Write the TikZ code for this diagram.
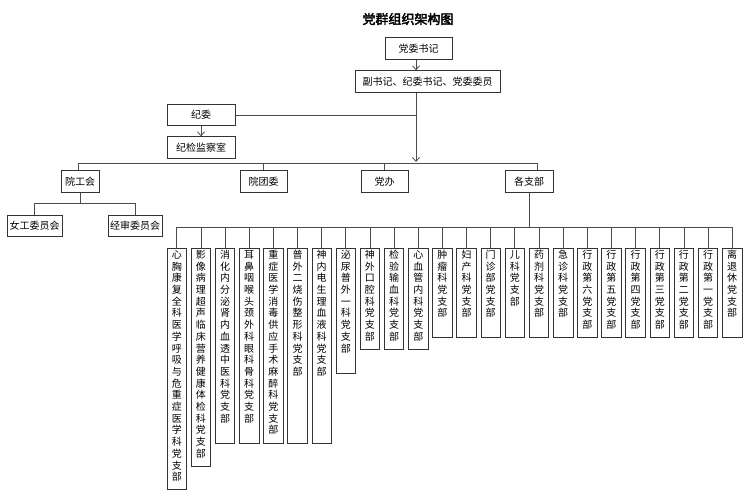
\documentclass[tikz,border=0pt]{standalone}
\usepackage{fontspec}
\setmainfont{Noto Sans CJK SC}
\newfontfamily\titlefont[FakeBold=3]{Noto Sans CJK SC}
\usetikzlibrary{arrows.meta}
\ExplSyntaxOn
\NewDocumentCommand\charlines{m}{\exp_args:No\tl_map_inline:nn{#1}{\hbox_to_wd:nn{19.5pt}{\hss\rule[-1.5pt]{0pt}{11pt}##1\hss}}}
\ExplSyntaxOff
\newcommand\colstack[2]{\vbox to #1{\vskip0.5pt\baselineskip=11.7pt\lineskiplimit=-\maxdimen\charlines{#2}\vss}}
\tikzset{
  box/.style={draw=black!80, line width=0.8pt, inner sep=0pt, minimum height=21.5pt, font=\fontsize{10}{12}\selectfont},
  colbox/.style={draw=black!80, line width=0.8pt, inner sep=0pt, anchor=north, font=\fontsize{10}{12}\selectfont},
  conn/.style={draw=black!70, line width=0.8pt},
  arr/.style={conn, -{Straight Barb[length=4pt,width=7pt]}},
}
\begin{document}
\begin{tikzpicture}[x=1pt,y=-1pt]
\useasboundingbox (0,0) rectangle (750,499);
\node[font=\titlefont\fontsize{13}{15}\selectfont] (title) at (408,19) {党群组织架构图};
\node[box, minimum width=67pt] (dwsj) at (418.5,48.5) {党委书记};
\node[box, minimum width=145pt] (fsj) at (427.5,81.5) {副书记、纪委书记、党委委员};
\node[box, minimum width=68pt] (jw) at (201,115) {纪委};
\node[box, minimum width=68pt] (jjjcs) at (201,147.5) {纪检监察室};
\node[box, minimum width=38pt] (ygh) at (80,181.5) {院工会};
\node[box, minimum width=47pt] (ytw) at (263.5,181.5) {院团委};
\node[box, minimum width=47pt] (db) at (384.5,181.5) {党办};
\node[box, minimum width=48pt] (gzb) at (529,181.5) {各支部};
\node[box, minimum width=55pt] (ngwyh) at (34.5,226) {女工委员会};
\node[box, minimum width=54pt] (jswyh) at (135,226) {经审委员会};
\foreach \t/\h [count=\i from 0] in {心胸康复全科医学呼吸与危重症医学科党支部/241, 影像病理超声临床营养健康体检科党支部/218, 消化内分泌肾内血透中医科党支部/195, 耳鼻咽喉头颈外科眼科骨科党支部/195, 重症医学消毒供应手术麻醉科党支部/195, 普外二烧伤整形科党支部/195, 神内电生理血液科党支部/195, 泌尿普外一科党支部/125, 神外口腔科党支部/101, 检验输血科党支部/101, 心血管内科党支部/101, 肿瘤科党支部/89, 妇产科党支部/89, 门诊部党支部/89, 儿科党支部/89, 药剂科党支部/89, 急诊科党支部/89, 行政第六党支部/89, 行政第五党支部/89, 行政第四党支部/89, 行政第三党支部/89, 行政第二党支部/89, 行政第一党支部/89, 离退休党支部/89}
  \node[colbox] (c\i) at ({176.75+24.15*\i},248) {\colstack{\h pt}{\t}};
% coordinates
\coordinate (mx) at (416,0);
\coordinate (busT) at (0,163);
\coordinate (tL) at (78,163);
\coordinate (tR) at (537,163);
\coordinate (yb) at (0,203);
\coordinate (cb) at (0,227);
% connectors
\draw[arr] (dwsj.south -| mx) -- (fsj.north -| mx);
\draw[conn] (jw.east) -- (jw.east -| mx);
\draw[arr, shorten >=1pt] (fsj.south -| mx) -- (mx |- busT);
\draw[arr] (jw) -- (jjjcs);
\draw[conn] (ygh.north -| tL) |- (tR) -- (tR |- gzb.north);
\draw[conn] (ytw.north) -- (ytw.north |- busT);
\draw[conn] (db.north) -- (db.north |- busT);
\draw[conn] (ygh.south) -- (ygh.south |- yb);
\draw[conn] (ngwyh.north) |- (jswyh.north |- yb) -- (jswyh.north);
\draw[conn] (gzb.south) -- (gzb.south |- cb);
\draw[conn] (c0.north) |- (c23.north |- cb) -- (c23.north);
\foreach \i in {1,...,22} \draw[conn] (c\i.north) -- (c\i.north |- cb);
\end{tikzpicture}
\end{document}
